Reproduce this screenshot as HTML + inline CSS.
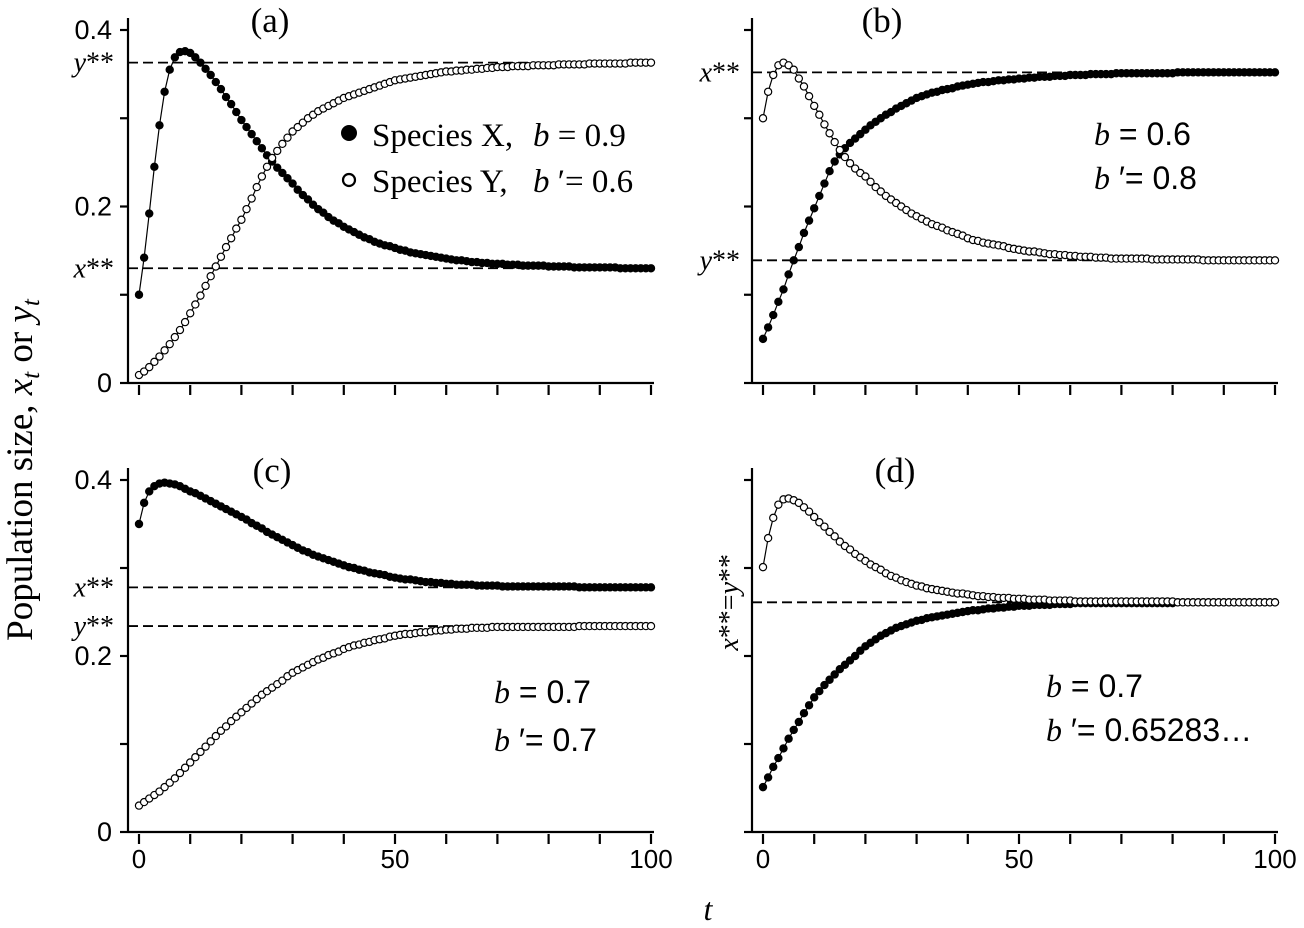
<!DOCTYPE html>
<html><head><meta charset="utf-8"><style>
html,body{margin:0;padding:0;background:#fff;}
svg{display:block;font-family:"Liberation Serif",serif;}
</style></head><body>
<svg id="fig" width="1304" height="928" viewBox="0 0 1304 928" xmlns="http://www.w3.org/2000/svg">
<text x="32" y="470" font-size="37" text-anchor="middle" transform="rotate(-90 32 470)">Population size, <tspan font-style="italic">x</tspan><tspan font-style="italic" font-size="25" dy="7">t</tspan><tspan dy="-7"> or </tspan><tspan font-style="italic">y</tspan><tspan font-style="italic" font-size="25" dy="7">t</tspan></text>
<text x="708" y="920" font-size="32" font-style="italic" text-anchor="middle">t</text>
</svg>
<script>
const xA=[.100,.142,.192,.245,.292,.330,.355,.369,.375,.376,.374,.369,.363,.356,.349,.341,.333,.324,.316,.307,.298,.290,.282,.274,.266,.258,.251,.244,.238,.232,.226,.219,.213,.208,.202,.197,.193,.188,.184,.181,.177,.174,.171,.168,.165,.163,.160,.158,.156,.155,.153,.151,.150,.148,.147,.146,.145,.144,.143,.142,.141,.140,.139,.139,.138,.137,.137,.136,.136,.135,.135,.135,.134,.134,.134,.133,.133,.133,.133,.133,.132,.132,.132,.132,.132,.131,.131,.131,.131,.131,.131,.131,.131,.131,.130,.130,.130,.130,.130,.130,.130];
const yA=[.009,.013,.018,.024,.030,.037,.044,.052,.060,.069,.079,.089,.099,.110,.121,.132,.143,.154,.164,.175,.185,.197,.209,.222,.234,.245,.255,.263,.271,.278,.285,.290,.295,.300,.304,.308,.311,.314,.317,.320,.323,.325,.327,.329,.331,.333,.335,.337,.339,.341,.343,.344,.345,.346,.347,.348,.349,.350,.351,.352,.353,.353,.354,.354,.355,.355,.356,.356,.357,.357,.358,.358,.358,.359,.359,.359,.359,.360,.360,.360,.360,.360,.361,.361,.361,.361,.361,.361,.362,.362,.362,.362,.362,.362,.362,.362,.363,.363,.363,.363,.363];
const xB=[.050,.063,.077,.092,.106,.123,.139,.154,.170,.184,.198,.212,.226,.240,.251,.259,.266,.272,.277,.282,.287,.292,.296,.300,.304,.307,.311,.314,.317,.320,.323,.325,.327,.329,.330,.332,.333,.334,.336,.337,.338,.339,.340,.341,.341,.342,.343,.343,.344,.344,.345,.345,.346,.346,.347,.347,.347,.348,.348,.348,.349,.349,.349,.349,.350,.350,.350,.350,.350,.351,.351,.351,.351,.351,.351,.351,.351,.351,.351,.351,.351,.352,.352,.352,.352,.352,.352,.352,.352,.352,.352,.352,.352,.352,.352,.352,.352,.352,.352,.352,.352];
const yB=[.300,.330,.349,.360,.363,.360,.355,.345,.336,.325,.314,.304,.293,.283,.273,.264,.256,.249,.243,.238,.234,.228,.222,.217,.212,.208,.204,.200,.196,.192,.189,.186,.183,.180,.178,.176,.173,.171,.169,.167,.164,.162,.161,.159,.158,.157,.156,.155,.153,.152,.151,.150,.149,.149,.148,.147,.146,.146,.145,.145,.144,.144,.143,.143,.143,.142,.142,.142,.141,.141,.141,.141,.141,.141,.141,.141,.140,.140,.140,.140,.140,.140,.140,.140,.140,.140,.139,.139,.139,.139,.139,.139,.139,.139,.139,.139,.139,.139,.139,.139,.139];
const xC=[.350,.374,.387,.393,.396,.397,.396,.395,.393,.390,.387,.385,.382,.379,.376,.373,.370,.367,.364,.361,.358,.355,.351,.348,.345,.341,.338,.335,.332,.329,.326,.323,.320,.318,.315,.313,.311,.309,.307,.305,.303,.301,.300,.298,.297,.295,.294,.293,.292,.290,.289,.288,.287,.287,.286,.285,.284,.284,.283,.283,.282,.282,.281,.281,.281,.281,.280,.280,.280,.280,.280,.279,.279,.279,.279,.279,.279,.279,.279,.279,.279,.279,.279,.279,.279,.279,.278,.278,.278,.278,.278,.278,.278,.278,.278,.278,.278,.278,.278,.278,.278];
const yC=[.030,.034,.038,.042,.046,.051,.056,.061,.067,.073,.079,.085,.091,.097,.103,.109,.115,.120,.126,.131,.136,.141,.146,.151,.156,.160,.164,.168,.172,.177,.181,.184,.187,.190,.193,.196,.198,.201,.203,.205,.208,.210,.212,.213,.215,.216,.218,.219,.220,.222,.223,.224,.225,.225,.226,.227,.227,.228,.229,.229,.230,.230,.231,.231,.231,.232,.232,.232,.232,.233,.233,.233,.233,.233,.233,.233,.233,.233,.233,.233,.233,.233,.233,.233,.233,.233,.234,.234,.234,.234,.234,.234,.234,.234,.234,.234,.234,.234,.234,.234,.234];
const xD=[.051,.062,.074,.084,.095,.106,.116,.125,.135,.144,.153,.160,.167,.173,.179,.185,.190,.195,.200,.206,.211,.215,.219,.223,.226,.229,.232,.234,.236,.238,.240,.241,.243,.244,.245,.246,.247,.248,.249,.250,.251,.252,.252,.253,.254,.254,.255,.255,.256,.256,.257,.257,.257,.258,.258,.258,.258,.259,.259,.259,.259,.260,.260,.260,.260,.260,.260,.260,.260,.260,.260,.260,.260,.260,.260,.260,.260,.260,.260,.260,.260,.261,.261,.261,.261,.261,.261,.261,.261,.261,.261,.261,.261,.261,.261,.261,.261,.261,.261,.261,.261];
const yD=[.301,.334,.357,.372,.378,.379,.377,.374,.369,.364,.358,.352,.347,.341,.336,.330,.325,.321,.316,.312,.308,.304,.301,.298,.294,.291,.289,.286,.284,.282,.280,.279,.277,.276,.275,.274,.273,.272,.271,.271,.270,.269,.268,.268,.267,.267,.266,.266,.266,.265,.265,.265,.264,.264,.264,.264,.263,.263,.263,.263,.263,.262,.262,.262,.262,.262,.262,.262,.262,.262,.262,.262,.262,.262,.262,.262,.262,.262,.262,.262,.262,.261,.261,.261,.261,.261,.261,.261,.261,.261,.261,.261,.261,.261,.261,.261,.261,.261,.261,.261,.261];
const eqA=[.130,.363], eqB=[.352,.139], eqC=[.278,.234], eqD=[.261];
const xTickLabels=[0,50,100];
const yTickLabels=[0.4,0.2,0];

const NS='http://www.w3.org/2000/svg';
const svg=document.getElementById('fig');
function el(tag,attrs,parent){const e=document.createElementNS(NS,tag);for(const k in attrs)e.setAttribute(k,attrs[k]);(parent||svg).appendChild(e);return e;}

function panel(id,x0,yZero,yTop,showYLabels,showXLabels,xs,ys,eqs){
  const g=el('g',{});
  
  
  const sx=t=>x0+t*5.12;
  const sy=v=>yZero-v*(yZero-yTop)/0.4;
  const axX=x0-11;
  const ya=el('line',{x1:axX,y1:yTop-12,x2:axX,y2:yZero,stroke:'#000','stroke-width':2.2},g);
  
  
  const xa=el('line',{x1:axX,y1:yZero,x2:sx(100)+3,y2:yZero,stroke:'#000','stroke-width':2.2},g);
  
  
  for(let v=0;v<=0.4001;v+=0.1){
    const tk=el('line',{x1:axX-8,y1:sy(v),x2:axX,y2:sy(v),stroke:'#000','stroke-width':2.2},g);
    
    
  }
  if(showYLabels){
    yTickLabels.forEach(v=>{
      const t=el('text',{x:axX-16,y:sy(v)+9,'font-size':27,'text-anchor':'end','font-family':'Liberation Sans, sans-serif'},g);
      t.textContent=String(v);
      
      
    });
  }
  for(let t=0;t<=100;t+=10){
    const tk=el('line',{x1:sx(t),y1:yZero+2,x2:sx(t),y2:yZero+12,stroke:'#000','stroke-width':2.2},g);
    
    
  }
  if(showXLabels){
    xTickLabels.forEach(t=>{
      const tx=el('text',{x:sx(t),y:yZero+36,'font-size':26,'text-anchor':'middle','font-family':'Liberation Sans, sans-serif'},g);
      tx.textContent=String(t);
      
      
    });
  }
  eqs.forEach(v=>{
    const d=el('line',{x1:axX,y1:sy(v),x2:sx(100)+4,y2:sy(v),stroke:'#000','stroke-width':1.8,'stroke-dasharray':'10 5'},g);
    
    
  });
  [[xs,true],[ys,false]].forEach(([arr,filled])=>{
    const pts=arr.map((v,t)=>sx(t)+','+sy(v)).join(' ');
    const pl=el('polyline',{points:pts,fill:'none',stroke:'#000','stroke-width':1.2},g);
    
    
    arr.forEach((v,t)=>{
      const c=el('circle',{cx:sx(t),cy:sy(v),r:3.6,fill:filled?'#000':'#fff',stroke:'#000','stroke-width':1.2},g);
      
      
    });
  });
  return {sx,sy,axX,g};
}

function txt(x,y,html,size,name,extra){
  const t=el('text',Object.assign({x:x,y:y,'font-size':size},extra||{}));
  t.innerHTML=html;
  
  
  return t;
}

const pa=panel('a',139,383,30,true,false,xA,yA,eqA);
const pb=panel('b',763,383,30,false,false,xB,yB,eqB);
const pc=panel('c',139,832,480,true,true,xC,yC,eqC);
const pd=panel('d',763,832,480,false,true,xD,yD,eqD);

txt(270,32,'(a)',35,'panel-label-a',{'text-anchor':'middle'});
txt(882,32,'(b)',35,'panel-label-b',{'text-anchor':'middle'});
txt(272,482,'(c)',35,'panel-label-c',{'text-anchor':'middle'});
txt(895,482,'(d)',35,'panel-label-d',{'text-anchor':'middle'});

const it='<tspan font-style="italic">';
txt(114,pa.sy(eqA[1])+9,it+'y</tspan>**',28,'y-star-label-a',{'text-anchor':'end'});
txt(114,pa.sy(eqA[0])+9,it+'x</tspan>**',28,'x-star-label-a',{'text-anchor':'end'});
txt(740,pb.sy(eqB[0])+9,it+'x</tspan>**',28,'x-star-label-b',{'text-anchor':'end'});
txt(740,pb.sy(eqB[1])+9,it+'y</tspan>**',28,'y-star-label-b',{'text-anchor':'end'});
txt(114,pc.sy(eqC[0])+9,it+'x</tspan>**',28,'x-star-label-c',{'text-anchor':'end'});
txt(114,pc.sy(eqC[1])+9,it+'y</tspan>**',28,'y-star-label-c',{'text-anchor':'end'});
txt(738,pd.sy(eqD[0]),it+'x</tspan>**=<tspan font-style="italic">y</tspan>**',28,'xy-star-label-d',{'text-anchor':'middle',transform:'rotate(-90 738 '+pd.sy(eqD[0])+')'});

const lc1=el('circle',{cx:349,cy:133,r:8,fill:'#000'});


const lc2=el('circle',{cx:349,cy:180,r:6,fill:'#fff',stroke:'#000','stroke-width':2.2});


txt(372,146,'Species X,',33,'legend-entry-x');
txt(372,192,'Species Y,',33,'legend-entry-y');
txt(533,146,it+'b</tspan> = 0.9',33,'legend-param-b');
txt(533,192,it+'b</tspan> ′= 0.6',33,'legend-param-bprime');

const ss={'font-family':'Liberation Sans, sans-serif'};
txt(1094,145,it+'<tspan font-family="Liberation Serif">b</tspan></tspan> = 0.6',32,'param-b-b',ss);
txt(1094,189,it+'<tspan font-family="Liberation Serif">b</tspan></tspan> ′= 0.8',32,'param-bprime-b',ss);
txt(494,703,it+'<tspan font-family="Liberation Serif">b</tspan></tspan> = 0.7',32,'param-b-c',ss);
txt(494,751,it+'<tspan font-family="Liberation Serif">b</tspan></tspan> ′= 0.7',32,'param-bprime-c',ss);
txt(1046,697,it+'<tspan font-family="Liberation Serif">b</tspan></tspan> = 0.7',32,'param-b-d',ss);
txt(1046,741,it+'<tspan font-family="Liberation Serif">b</tspan></tspan> ′= 0.65283…',32,'param-bprime-d',ss);
</script>
</body></html>
